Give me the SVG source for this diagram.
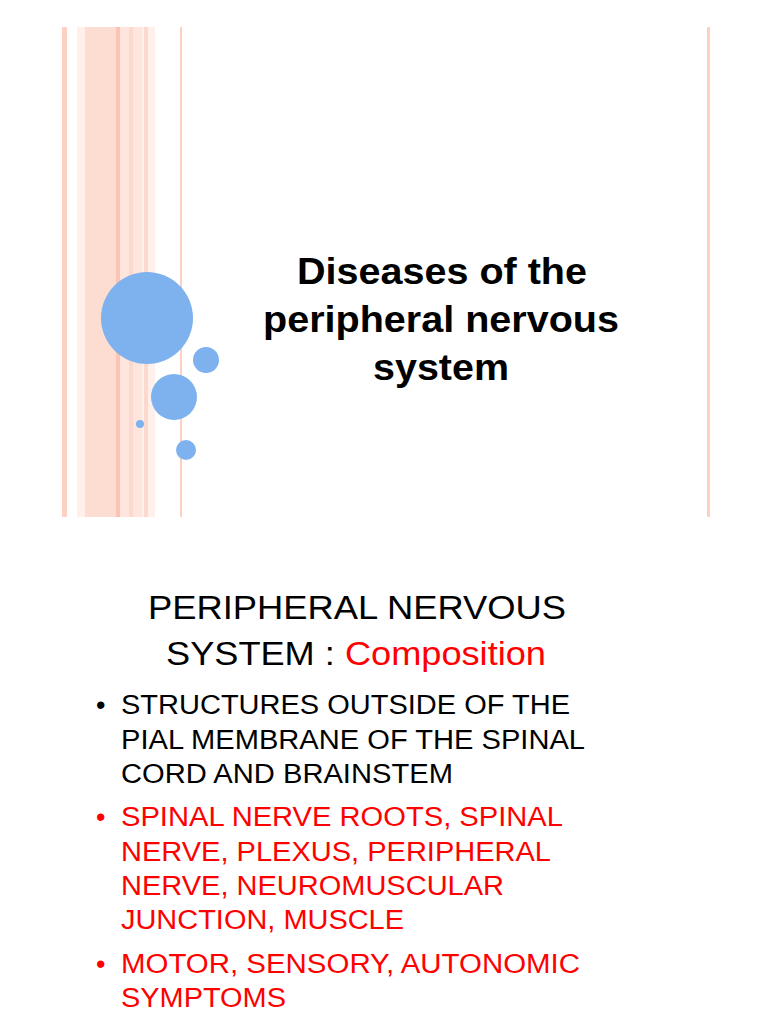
<svg xmlns="http://www.w3.org/2000/svg" width="768" height="1024" viewBox="0 0 768 1024">
<style>
.t{font-family:"Liberation Sans",Arial,sans-serif}
.c{fill:#7eb2ee}
.r{fill:#ff0000}
</style>
<rect width="768" height="1024" fill="#fff"/>
<g id="stripes">
<rect x="62" y="27" width="5" height="490" fill="#fcd0c2"/>
<rect x="77" y="27" width="78" height="490" fill="#fff0eb"/>
<rect x="85" y="27" width="31" height="490" fill="#fdddd2"/>
<rect x="116" y="27" width="4" height="490" fill="#fcc4b2"/>
<rect x="120" y="27" width="22" height="490" fill="#fee6de"/>
<rect x="129" y="27" width="4" height="490" fill="#fdd8cc"/>
<rect x="144" y="27" width="4" height="490" fill="#fdd8cc"/>
<rect x="180" y="27" width="2" height="490" fill="#fcd0c2"/>
<rect x="707" y="27" width="3" height="490" fill="#fcd0c2"/>
</g>
<g id="circles">
<circle class="c" cx="147" cy="318" r="46"/>
<circle class="c" cx="206" cy="360" r="13"/>
<circle class="c" cx="174" cy="397" r="23"/>
<circle class="c" cx="140" cy="424" r="4"/>
<circle class="c" cx="186" cy="450" r="10"/>
</g>
<g id="title" class="t" font-size="36" font-weight="bold">
<text x="297" y="284" textLength="290" lengthAdjust="spacingAndGlyphs">Diseases of the</text>
<text x="263" y="332" textLength="356" lengthAdjust="spacingAndGlyphs">peripheral nervous</text>
<text x="373" y="380" textLength="136" lengthAdjust="spacingAndGlyphs">system</text>
</g>
<g id="slide2" class="t">
<text x="148" y="619" font-size="33" textLength="418" lengthAdjust="spacingAndGlyphs">PERIPHERAL NERVOUS</text>
<text x="166" y="665" font-size="33" textLength="380" lengthAdjust="spacingAndGlyphs">SYSTEM : <tspan class="r">Composition</tspan></text>
<g font-size="27">
<text x="96" y="714">•</text>
<text x="121" y="714" textLength="449" lengthAdjust="spacingAndGlyphs">STRUCTURES OUTSIDE OF THE</text>
<text x="121" y="749" textLength="464" lengthAdjust="spacingAndGlyphs">PIAL MEMBRANE OF THE SPINAL</text>
<text x="121" y="783" textLength="332" lengthAdjust="spacingAndGlyphs">CORD AND BRAINSTEM</text>
<g class="r">
<text x="96" y="826">•</text>
<text x="121" y="826" textLength="442" lengthAdjust="spacingAndGlyphs">SPINAL NERVE ROOTS, SPINAL</text>
<text x="121" y="861" textLength="430" lengthAdjust="spacingAndGlyphs">NERVE, PLEXUS, PERIPHERAL</text>
<text x="121" y="895" textLength="383" lengthAdjust="spacingAndGlyphs">NERVE, NEUROMUSCULAR</text>
<text x="121" y="929" textLength="283" lengthAdjust="spacingAndGlyphs">JUNCTION, MUSCLE</text>
<text x="96" y="973">•</text>
<text x="121" y="973" textLength="459" lengthAdjust="spacingAndGlyphs">MOTOR, SENSORY, AUTONOMIC</text>
<text x="121" y="1007" textLength="165" lengthAdjust="spacingAndGlyphs">SYMPTOMS</text>
</g>
</g>
</g>
</svg>
